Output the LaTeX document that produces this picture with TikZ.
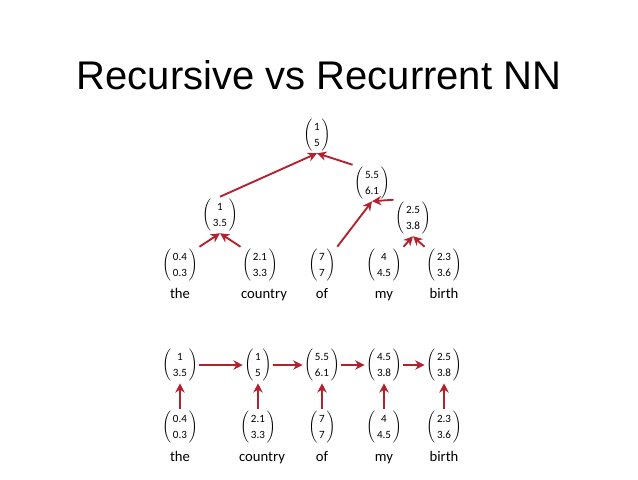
\documentclass[tikz,border=0pt]{standalone}
\usepackage{amsmath}
\usepackage{fontspec}
\setmainfont{Liberation Sans}
\newfontfamily\calfont{Carlito}
\usetikzlibrary{arrows.meta}
\definecolor{arrowred}{HTML}{B3202E}
\newcommand{\vect}[2]{$\renewcommand{\arraystretch}{1.25}\left(\begin{array}{@{\,}c@{\,}}\text{#1}\\ \text{#2}\end{array}\right)$}
\begin{document}
\begin{tikzpicture}[x=0.75pt,y=-0.75pt]
\tikzstyle{vec}=[inner sep=1pt,font=\calfont\fontsize{8.3}{10}\selectfont]
\tikzstyle{word}=[inner sep=1pt,anchor=base,font=\calfont\fontsize{11}{13}\selectfont]
\tikzstyle{link}=[draw=arrowred,line width=1.4pt,-{Stealth[length=7pt,width=7pt]}]
\useasboundingbox (0,0) rectangle (638,479);
\node[font=\fontsize{30}{36}\selectfont] (title) at (319,75) {Recursive vs Recurrent NN};
% recursive tree
\node[vec] (r) at (317,135) {\vect{1}{5}};
\node[vec] (a) at (372,183) {\vect{5.5}{6.1}};
\node[vec] (b) at (220,215) {\vect{1}{3.5}};
\node[vec] (c) at (413,218) {\vect{2.5}{3.8}};
\node[vec] (l1) at (180,265) {\vect{0.4}{0.3}};
\node[vec] (l2) at (260,265) {\vect{2.1}{3.3}};
\node[vec] (l3) at (322,265) {\vect{7}{7}};
\node[vec] (l4) at (384,265) {\vect{4}{4.5}};
\node[vec] (l5) at (444,265) {\vect{2.3}{3.6}};
\node[word] (w1) at (180,298) {the};
\node[word] (w2) at (264,298) {country};
\node[word] (w3) at (322,298) {of};
\node[word] (w4) at (384,298) {my};
\node[word] (w5) at (444,298) {birth};
\draw[link] (l1.north east) -- (b.south);
\draw[link] (l2.north west) -- (b.south);
\draw[link] (l3.north east) -- (a.south);
\draw[link] (l4.north east) -- (c.south);
\draw[link] (l5.north west) -- (c.south);
\draw[link] (c.north west) -- (a.south);
\draw[link] (b.north) -- (r.south);
\draw[link] (a.north west) -- (r.south);
% recurrent chain
\node[vec] (h1) at (180,365) {\vect{1}{3.5}};
\node[vec] (h2) at (258,365) {\vect{1}{5}};
\node[vec] (h3) at (322,365) {\vect{5.5}{6.1}};
\node[vec] (h4) at (384,365) {\vect{4.5}{3.8}};
\node[vec] (h5) at (444,365) {\vect{2.5}{3.8}};
\node[vec] (x1) at (180,427) {\vect{0.4}{0.3}};
\node[vec] (x2) at (258,427) {\vect{2.1}{3.3}};
\node[vec] (x3) at (322,427) {\vect{7}{7}};
\node[vec] (x4) at (384,427) {\vect{4}{4.5}};
\node[vec] (x5) at (444,427) {\vect{2.3}{3.6}};
\node[word] (v1) at (180,461) {the};
\node[word] (v2) at (262,461) {country};
\node[word] (v3) at (322,461) {of};
\node[word] (v4) at (384,461) {my};
\node[word] (v5) at (444,461) {birth};
\foreach \i in {1,...,5} \draw[link] (x\i) -- (h\i);
\foreach \i/\j in {1/2,2/3,3/4,4/5} \draw[link] (h\i) -- (h\j);
\end{tikzpicture}
\end{document}
